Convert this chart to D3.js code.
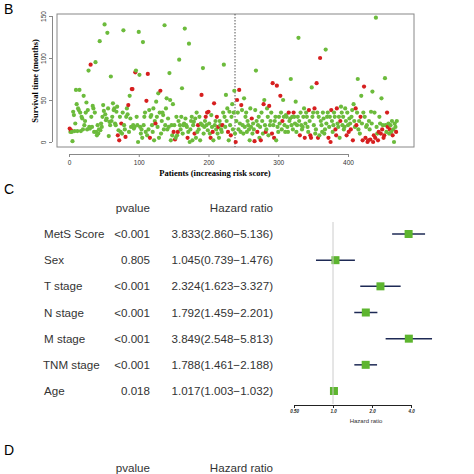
<!DOCTYPE html><html><head><meta charset="utf-8">
<script src="https://cdn.jsdelivr.net/npm/d3@7/dist/d3.min.js"></script>
<style>body{margin:0;background:#fff}</style></head><body>
<script>
const months=[16,12,14,12,1,36,32,13,22,62, 45,13,40,38,62,35,13,30,28,15, 55,20,25,35,47,15,38,85,18,16,
92,30,18,43,40,12,35,95,12,8, 20,10,15,120,14,22,18,30,44,37, 140,33,26,28,130,40,7,24,20,78,
25,30,46,38,40,22,20,36,42,8, 14,2,30,12,22,10,35,133,20,15, 6,30,40,33,44,12,55,28,18,63,
63,20,16,18,83,85,30,20,0,131, 80,18,10,15,5,119,20,30,35,12, 49,8,81,15,38,5,30,32,20,12,
40,2,25,22,48,30,18,58,5,35, 61,10,25,35,32,15,139,20,40,52, 15,28,18,82,50,2,20,8,45,12,
20,3,5,30,8,12,25,98,20,15, 30,64,10,20,22,135,28,20,18,5, 12,117,0,15,25,30,2,20,24,10,
28,5,35,12,20,15,30,2,22,56, 20,88,10,18,25,30,20,35,14,36, 22,10,5,32,18,12,2,46,20,25,
15,30,10,18,5,25,20,15,12,20, 35,92,30,18,56,25,40,12,2,36, 20,8,30,45,15,35,61,10,0,25,
50,35,15,62,22,12,44,38,20,10, 52,18,30,35,12,25,20,15,2,40, 18,28,10,22,15,1,38,85,25,12,
20,30,5,18,2,35,25,10,45,50, 20,12,15,40,30,8,43,20,25,35, 10,70,20,5,25,30,2,67,18,12,
30,22,55,35,15,25,50,30,20,12, 32,30,18,12,35,25,28,75,20,30, 15,35,30,22,48,12,20,30,124,25,
8,35,20,15,18,30,40,5,22,35, 30,18,12,38,25,8,5,65,30,35, 20,40,10,15,70,35,5,30,8,100,
25,20,12,35,28,10,15,110,22,30, 35,5,18,30,0,38,25,12,20,35, 30,15,8,40,22,18,30,5,25,42,
35,20,30,15,18,40,25,8,35,20, 12,28,22,15,30,38,2,45,25,18, 40,20,35,75,15,25,10,30,55,22,
2,35,66,30,5,18,20,0,2,25, 15,3,36,22,60,0,8,35,5,148, 18,10,2,12,30,22,10,52,15,20,
5,8,76,20,12,35,18,22,10,15, 20,12,25,8,15,0,22,18,12,25];
const deadIdx=[1,3,31,70,72,75,81,85,90,91,95,111,113,116,124,131,150,152,156,170,180,185,190,196,198,200,203,206,208,212,214,220,228,232,239,241,244,247,262,266,270,275,279,282,287,291,292,294,298,303,306,315,322,331,338,344,346,347,352,355,357,360,372,375,376,382,383,384,389,398,401,404,407,411,412,418,421,423,425,428,429,432,436,437,439,443,444,447,449,451,452,456,457,460,464,469];
const cutoff=238;
const xTicks=[0,100,200,300,400], yTicks=[0,50,100,150];

const vars=["MetS Score","Sex","T stage","N stage","M stage","TNM stage","Age"];
const pvals=["<0.001","0.805","<0.001","<0.001","<0.001","<0.001","0.018"];
const hr=[3.833,1.045,2.324,1.792,3.849,1.788,1.017];
const lo=[2.860,0.739,1.623,1.459,2.548,1.461,1.003];
const hi=[5.136,1.476,3.327,2.201,5.813,2.188,1.032];
const hrTicks=[0.5,1,2,4], hrTickLabels=["0.50","1.0","2.0","4.0"];

const svg=d3.select("body").append("svg").attr("width",474).attr("height",474);
const serif="'Liberation Serif','DejaVu Serif',serif", sans="'Liberation Sans',Arial,sans-serif";
const fs=11.6;

// Panel B
svg.append("text").attr("x",4).attr("y",14).attr("font-family",sans).attr("font-size",14).text("B");
const x=d3.scaleLinear().domain([0,400]).range([69,348]);
const y=d3.scaleLinear().domain([0,150]).range([142,16]);
svg.append("rect").attr("x",57).attr("y",14).attr("width",357).attr("height",133).attr("fill","none").attr("stroke","#888");
const gx=svg.append("g").attr("transform","translate(0,154)").call(d3.axisBottom(x).tickValues(xTicks).tickSize(3));
const gy=svg.append("g").attr("transform","translate(52,0)").call(d3.axisLeft(y).tickValues(yTicks).tickSize(3));
[gx,gy].forEach(g=>{g.select(".domain").attr("stroke","#888");g.selectAll("line").attr("stroke","#888");g.selectAll("text").attr("font-family",sans).attr("font-size",6.5).attr("fill","#333");});
gx.select(".domain").attr("d","M69,0.5H348");
gy.select(".domain").attr("d","M0.5,142V16");
gy.selectAll("text").attr("transform","rotate(-90)").attr("text-anchor","middle").attr("x",0).attr("dy",0).attr("y",-6);
svg.append("line").attr("x1",x(cutoff)).attr("x2",x(cutoff)).attr("y1",14).attr("y2",147).attr("stroke","#555").attr("stroke-dasharray","1.5,1.5");
const dead=new Set(deadIdx);
svg.append("g").selectAll("circle").data(months).join("circle").attr("cx",(d,i)=>x(i+1)).attr("cy",d=>y(d)).attr("r",2.1)
 .attr("fill",(d,i)=>dead.has(i+1)?"#d61f1f":"#6cbb3c");
svg.append("text").attr("x",215).attr("y",176).attr("text-anchor","middle").attr("font-family",serif).attr("font-weight","bold").attr("font-size",8.5).text("Patients (increasing risk score)");
svg.append("text").attr("transform","translate(38,81) rotate(-90)").attr("text-anchor","middle").attr("font-family",serif).attr("font-weight","bold").attr("font-size",8.5).text("Survival time (months)");

// Panel C
svg.append("text").attr("x",4).attr("y",194).attr("font-family",sans).attr("font-size",14).text("C");
const rowY=d3.scalePoint().domain(vars).range([234,391]);
const tc="#333";
svg.append("text").attr("x",150).attr("y",212).attr("text-anchor","end").attr("font-family",sans).attr("font-size",fs).attr("fill",tc).text("pvalue");
svg.append("text").attr("x",273).attr("y",212).attr("text-anchor","end").attr("font-family",sans).attr("font-size",fs).attr("fill",tc).text("Hazard ratio");
const rows=svg.append("g").selectAll("g").data(vars).join("g").attr("transform",d=>`translate(0,${rowY(d)+4})`);
rows.append("text").attr("x",(d,i)=>i==5?43:44).attr("font-family",sans).attr("font-size",fs).attr("fill",tc).text(d=>d);
rows.append("text").attr("x",150).attr("text-anchor","end").attr("font-family",sans).attr("font-size",fs).attr("fill",tc).text((d,i)=>pvals[i]);
rows.append("text").attr("x",273).attr("text-anchor","end").attr("font-family",sans).attr("font-size",fs).attr("fill",tc).text((d,i)=>`${hr[i].toFixed(3)}(${lo[i].toFixed(3)}\u2212${hi[i].toFixed(3)})`);
const hx=d3.scaleLog().base(2).domain([0.5,4]).range([294,411]);
svg.append("line").attr("x1",hx(1)).attr("x2",hx(1)).attr("y1",222).attr("y2",404).attr("stroke","#ccc");
rows.append("line").attr("x1",(d,i)=>hx(lo[i])).attr("x2",(d,i)=>hx(hi[i])).attr("y1",-4).attr("y2",-4).attr("stroke","#1e2a55").attr("stroke-width",1.5);
rows.append("rect").attr("x",(d,i)=>hx(hr[i])-4).attr("y",-8).attr("width",8).attr("height",8).attr("fill","#5db52f");
const ga=svg.append("g").attr("transform","translate(0,405)").call(d3.axisBottom(hx).tickValues(hrTicks).tickFormat((d,i)=>hrTickLabels[i]).tickSize(3).tickSizeOuter(0));
ga.select(".domain").attr("stroke","#222");ga.selectAll("line").attr("stroke","#222");
ga.selectAll("text").attr("font-family",sans).attr("font-size",4.5).attr("font-style","italic").attr("font-weight","bold").attr("fill","#222").attr("dy","0.4em");
svg.append("text").attr("x",366).attr("y",423).attr("text-anchor","middle").attr("font-family",sans).attr("font-size",6).attr("fill",tc).text("Hazard ratio");

// Panel D
svg.append("text").attr("x",4).attr("y",455).attr("font-family",sans).attr("font-size",14).text("D");
svg.append("text").attr("x",150).attr("y",472).attr("text-anchor","end").attr("font-family",sans).attr("font-size",fs).attr("fill",tc).text("pvalue");
svg.append("text").attr("x",273).attr("y",472).attr("text-anchor","end").attr("font-family",sans).attr("font-size",fs).attr("fill",tc).text("Hazard ratio");
</script></body></html>
